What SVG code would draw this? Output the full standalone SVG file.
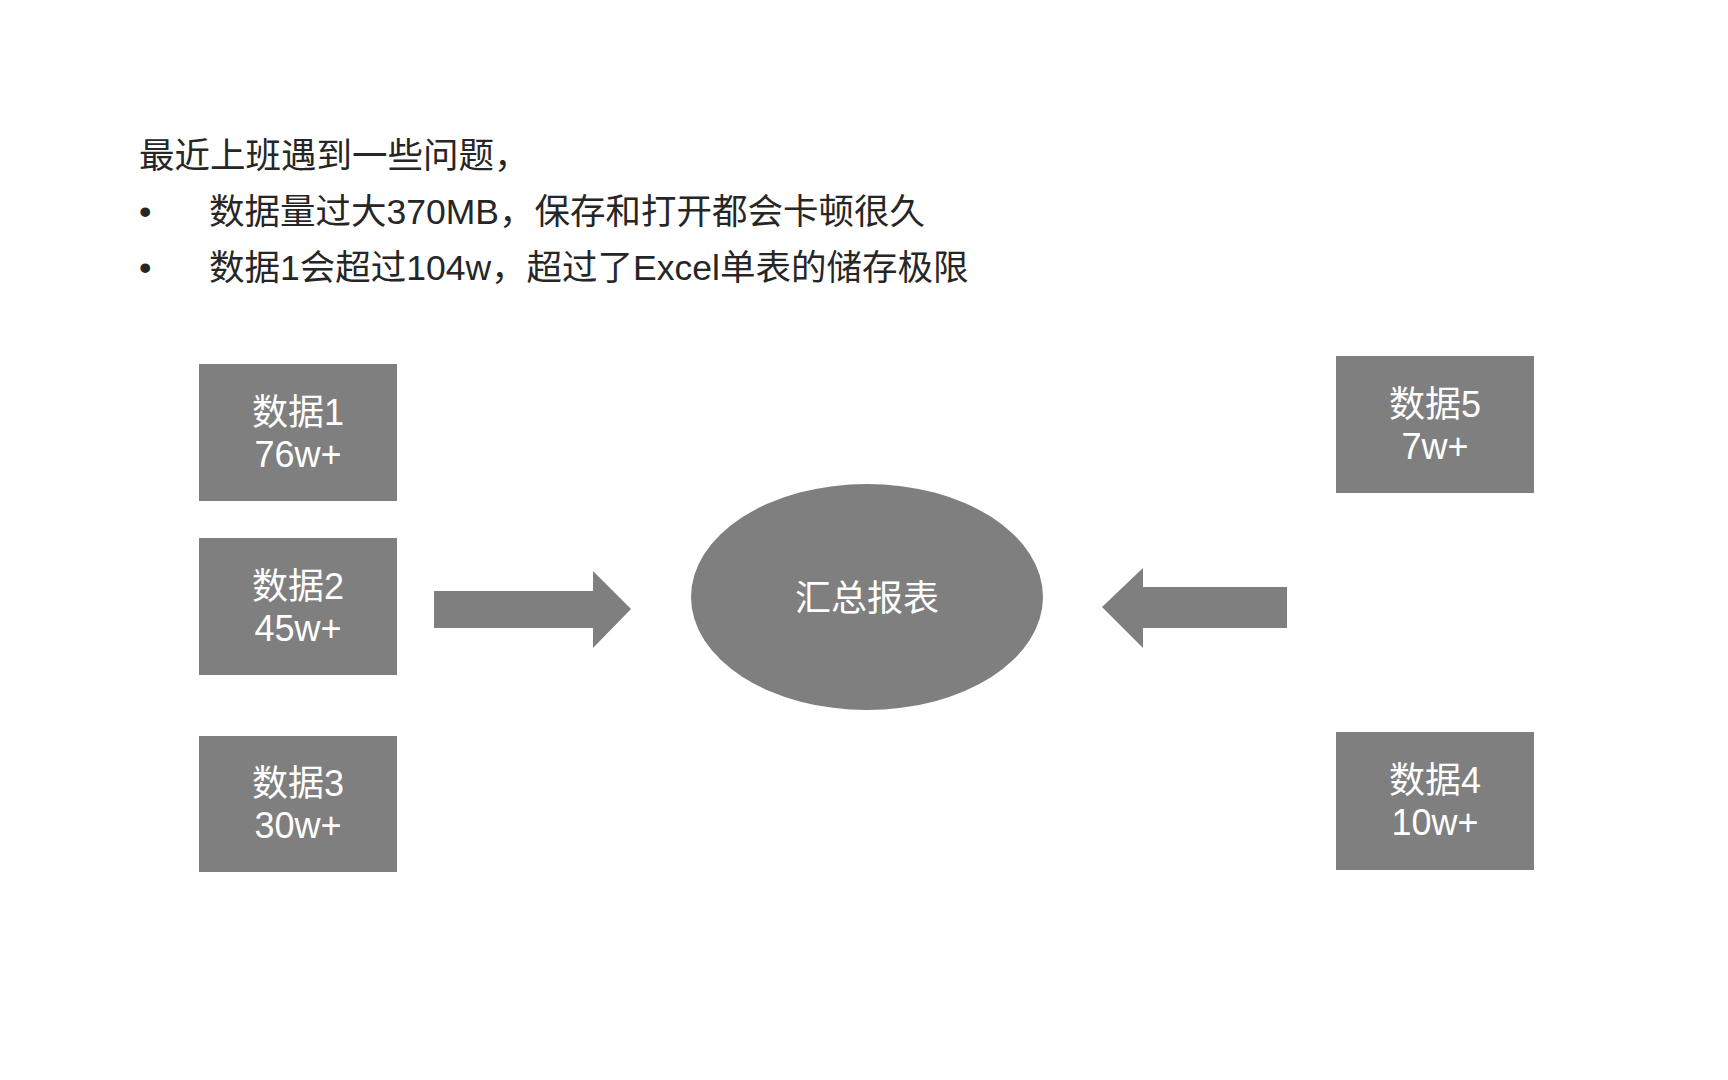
<svg xmlns="http://www.w3.org/2000/svg" width="1728" height="1080" viewBox="0 0 1728 1080">
<style>
.t{font-family:"Liberation Sans","Noto Sans CJK SC",sans-serif;font-size:35.5px;fill:#262626}
.b{fill:#7f7f7f}
.w{font-family:"Liberation Sans","Noto Sans CJK SC",sans-serif;font-size:36px;fill:#fff;text-anchor:middle}
</style>
<rect width="1728" height="1080" fill="#fff"/>
<text class="t" x="139" y="168">最近上班遇到一些问题，</text>
<text class="t" x="139" y="224">•</text><text class="t" x="209" y="224">数据量过大370MB，保存和打开都会卡顿很久</text>
<text class="t" x="139" y="280">•</text><text class="t" x="209" y="280">数据1会超过104w，超过了Excel单表的储存极限</text>
<g id="n1"><rect class="b" x="199" y="364" width="198" height="137"/><text class="w" x="298" y="425">数据1</text><text class="w" x="298" y="467">76w+</text></g>
<g id="n2"><rect class="b" x="199" y="538" width="198" height="137"/><text class="w" x="298" y="599">数据2</text><text class="w" x="298" y="641">45w+</text></g>
<g id="n3"><rect class="b" x="199" y="736" width="198" height="136"/><text class="w" x="298" y="796">数据3</text><text class="w" x="298" y="838">30w+</text></g>
<g id="n5"><rect class="b" x="1336" y="356" width="198" height="137"/><text class="w" x="1435" y="417">数据5</text><text class="w" x="1435" y="459">7w+</text></g>
<g id="n4"><rect class="b" x="1336" y="732" width="198" height="138"/><text class="w" x="1435" y="793">数据4</text><text class="w" x="1435" y="835">10w+</text></g>
<g id="hub"><ellipse class="b" cx="867" cy="597" rx="176" ry="113"/><text class="w" x="867" y="611">汇总报表</text></g>
<g id="connectors">
<polygon class="b" points="434,591 593,591 593,571 631,609 593,648 593,628 434,628"/>
<polygon class="b" points="1287,587 1143,587 1143,568 1102,607 1143,648 1143,628 1287,628"/>
</g>
</svg>
